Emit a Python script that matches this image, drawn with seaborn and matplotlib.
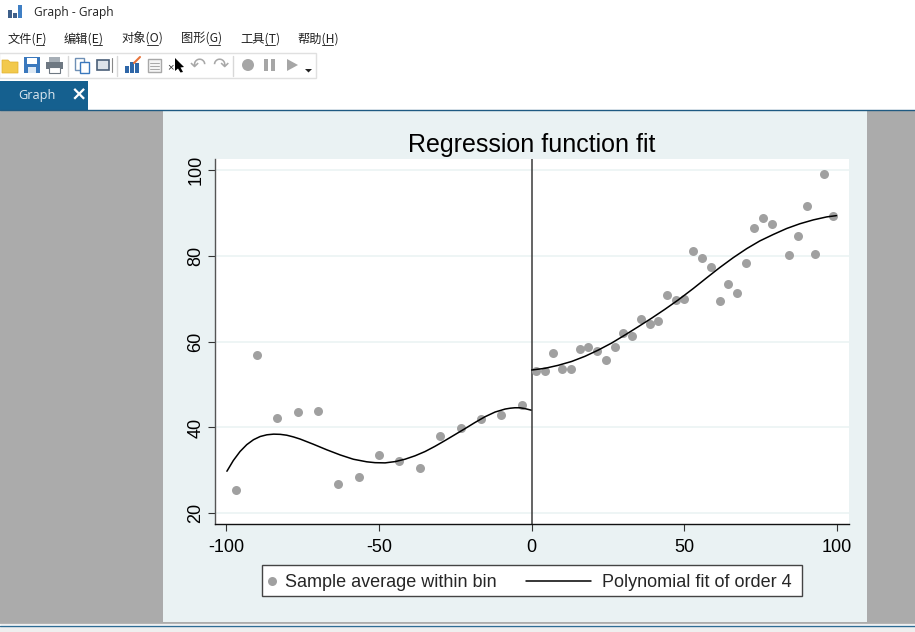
import matplotlib
matplotlib.use("Agg")
import matplotlib.pyplot as plt
from matplotlib.patches import Rectangle, Polygon, Circle
import seaborn as sns

# ---- data ----
bin_x_left = [-96.7, -90.0, -83.4, -76.6, -70.0, -63.3, -56.7, -50.0, -43.3, -36.6, -29.9, -23.3, -16.6, -10.0, -3.3]
bin_y_left = [25.4, 57.0, 42.3, 43.5, 43.9, 26.8, 28.5, 33.7, 32.2, 30.5, 38.1, 39.8, 41.9, 42.9, 45.2]
bin_x_right = [1.4, 4.3, 7.1, 9.9, 12.8, 15.7, 18.6, 21.5, 24.3, 27.2, 30.0, 32.9, 35.8, 38.6, 41.5, 44.3, 47.2,
               50.0, 52.8, 55.7, 58.6, 61.5, 64.3, 67.1, 70.1, 72.9, 75.8, 78.6, 84.4, 87.2, 90.1, 92.9, 95.7, 98.7]
bin_y_right = [53.1, 53.1, 57.35, 53.7, 53.6, 58.3, 58.8, 57.8, 55.7, 58.75, 62.0, 61.3, 65.2, 64.05, 64.8, 71.0, 69.8,
               70.05, 81.05, 79.55, 77.45, 69.6, 73.4, 71.3, 78.4, 86.6, 88.9, 87.4, 80.3, 84.55, 91.55, 80.35, 99.0, 89.3]
fit_x_left = [-99.8, -97.7, -95.5, -93.3, -91.1, -88.9, -86.7, -84.5, -82.3, -80.2, -78.0, -75.8, -71.5, -67.1, -62.7, -58.4, -54.0,
              -51.3, -48.0, -44.7, -41.5, -38.2, -34.9, -31.7, -28.4, -25.1, -21.8, -18.6, -15.3, -12.0, -8.7, -7.0, -5.5, -3.8, -2.2, -0.2]
fit_y_left = [29.8, 32.3, 34.4, 36.0, 37.15, 37.9, 38.3, 38.45, 38.4, 38.2, 37.8, 37.3, 36.1, 34.8, 33.6, 32.6, 32.0,
               31.8, 31.75, 32.05, 32.6, 33.4, 34.4, 35.6, 36.95, 38.35, 39.75, 41.15, 42.5, 43.6, 44.3, 44.5, 44.6, 44.6, 44.4, 44.05]
fit_x_right = [0.0, 4.35, 8.7, 13.1, 17.45, 21.8, 26.2, 30.5, 34.9, 39.3, 43.6, 48.0, 52.9, 57.3, 61.6, 66.0, 70.4,
               74.7, 79.1, 83.5, 87.8, 92.2, 96.6, 99.8]
fit_y_right = [53.4, 53.8, 54.5, 55.4, 56.6, 58.05, 59.7, 61.55, 63.5, 65.5, 67.55, 69.75, 72.4, 74.9, 77.3, 79.6, 81.7,
                83.5, 85.0, 86.4, 87.5, 88.4, 89.1, 89.4]
x_ticks = [-100, -50, 0, 50, 100]
y_ticks = [20, 40, 60, 80, 100]
title_text = "Regression function fit"
series_bin = "Sample average within bin"
series_fit = "Polynomial fit of order 4"
menu_labels = ["文件(F)", "编辑(E)", "对象(O)", "图形(G)", "工具(T)", "帮助(H)"]

# ---- style ----
W, H = 915, 632
sns.set_theme(style="ticks")
plt.rcParams["font.family"] = ["Liberation Sans", "DejaVu Sans"]
plt.rcParams["axes.unicode_minus"] = False
PANEL = "#EAF2F3"
BLUE = "#15608F"

fig = plt.figure(figsize=(W / 100, H / 100), dpi=100, facecolor="white")

# ---- window chrome, in pixel coordinates ----
ui = fig.add_axes([0, 0, 1, 1], zorder=0)
ui.set_xlim(0, W)
ui.set_ylim(H, 0)
ui.axis("off")
ui.add_patch(Rectangle((0, 110), W, 513, fc="#ABABAB", ec="none"))
ui.add_patch(Rectangle((163, 110), 704, 512, fc=PANEL, ec="none"))
ui.plot([0, W], [109.5, 109.5], color="#1F5A82", lw=1)
ui.plot([0, W], [622.7, 622.7], color="#B5B5B5", lw=1)
ui.plot([0, W], [625.5, 625.5], color="#2F6C94", lw=1)
ui.add_patch(Rectangle((0, 627), W, 5, fc="#EFEFEF", ec="none"))

# title bar
for (x, y0, c) in [(8, 10, "#3E5F8A"), (13, 13, "#3E5F8A"), (18, 5, "#3F7FC4")]:
    ui.add_patch(Rectangle((x, y0), 4, 18 - y0, fc=c, ec="none"))
ui.text(34, 12.5, "Graph - Graph", fontsize=8.6, family="Open Sans", va="center", color="#222222")

# menu
menu_x = [8, 64, 121, 181, 240, 297]
underlines = [(36, 44), (93, 102), (147, 158), (209, 220), (265, 275), (322, 333)]
for x, t, (u0, u1) in zip(menu_x, menu_labels, underlines):
    ui.text(x, 39, t, fontsize=8.8, family=["Noto Sans CJK SC", "DejaVu Sans"], va="center", color="#222222")
    ui.plot([u0, u1], [45, 45], color="#333333", lw=0.7)

# toolbar
ui.add_patch(Rectangle((-1, 52.5), 317, 25, fc="white", ec="#E0E0E0", lw=1))
for x in (68, 117, 233):
    ui.plot([x, x], [56, 76], color="#D8D8D8", lw=1)
ui.add_patch(Polygon([(2, 60), (8, 60), (10, 62), (18, 62), (18, 73), (2, 73)], fc="#F2C94C", ec="#E0B030", lw=0.5))
ui.add_patch(Rectangle((24, 57), 16, 16, fc="#3A78BD", ec="none"))
ui.add_patch(Rectangle((27, 58), 10, 6, fc="white", ec="none"))
ui.add_patch(Rectangle((28, 67), 8, 6, fc="#DCE8F4", ec="none"))
ui.add_patch(Rectangle((49, 57), 11, 5, fc="#A6AEB6", ec="none"))
ui.add_patch(Rectangle((46, 62), 17, 7, fc="#6E7882", ec="none"))
ui.add_patch(Rectangle((49, 67), 11, 6, fc="white", ec="#6E7882", lw=0.8))
ui.add_patch(Rectangle((75, 58), 9, 12, fc="white", ec="#6E8FB5", lw=1))
ui.add_patch(Rectangle((80, 62), 9, 11, fc="white", ec="#3A78BD", lw=1))
ui.add_patch(Rectangle((97, 60), 12, 10, fc="#DCE3EA", ec="#4A5F78", lw=1.2))
ui.plot([112, 112], [58, 72], color="#888888", lw=0.8)
for x, top in [(125, 66), (130, 62), (135, 63)]:
    ui.add_patch(Rectangle((x, top), 4, 73 - top, fc="#2F67A8", ec="none"))
ui.plot([134, 140], [63, 57], color="#E8743B", lw=1.5)
ui.add_patch(Rectangle((147.5, 59), 13, 13, fc="#F5F5F5", ec="#A8A8A8", lw=1))
for y in (62.5, 65.5, 68.5):
    ui.plot([149.5, 158.5], [y, y], color="#A8A8A8", lw=0.7)
ui.text(170.5, 67.5, "×", fontsize=8, va="center", ha="center", color="#333333")
ui.add_patch(Polygon([(175, 58), (184, 67), (180.5, 67.5), (183, 72), (180.5, 72.5), (178, 68.5), (175, 71)],
                     fc="black", ec="none", zorder=5))
ui.text(198, 65, "↶", fontsize=14, family="DejaVu Sans", ha="center", va="center", color="#A8A8A8")
ui.text(220, 65, "↷", fontsize=14, family="DejaVu Sans", ha="center", va="center", color="#A8A8A8")
ui.add_patch(Circle((248, 65), 6, fc="#A6A6A6", ec="none"))
ui.add_patch(Rectangle((264, 59), 4, 12, fc="#A6A6A6", ec="none"))
ui.add_patch(Rectangle((271, 59), 4, 12, fc="#A6A6A6", ec="none"))
ui.add_patch(Polygon([(287, 59), (298, 65), (287, 71)], fc="#A6A6A6", ec="none"))
ui.add_patch(Polygon([(305, 69), (312, 69), (308.5, 72.5)], fc="#222222", ec="none"))

# tab
ui.add_patch(Rectangle((0, 81), 88, 28.5, fc=BLUE, ec="none"))
ui.text(37, 95, "Graph", fontsize=9.2, family="Open Sans", ha="center", va="center", color="#DDE8F0")
ui.text(79, 94.5, "×", fontsize=14, family="DejaVu Sans", weight="bold", ha="center", va="center", color="white")

# ---- the chart ----
L, R, T, B = 215.3, 849.0, 159.0, 524.3
ax = fig.add_axes([L / W, 1 - B / H, (R - L) / W, (B - T) / H], zorder=1, facecolor="white")

ax.yaxis.grid(True, color=PANEL, lw=1.1, zorder=0)
ax.set_axisbelow(True)
ax.axvline(0, color="#3A3A3A", lw=1.1, zorder=1.5)

sns.scatterplot(x=bin_x_left + bin_x_right, y=bin_y_left + bin_y_right, ax=ax, color="#A0A0A0", s=42,
                linewidth=0, label=series_bin, zorder=2)
sns.lineplot(x=fit_x_left, y=fit_y_left, ax=ax, color="black", lw=1.1, label=series_fit, zorder=3)
sns.lineplot(x=fit_x_right, y=fit_y_right, ax=ax, color="black", lw=1.1, zorder=3)

ax.set_xlim(-103.6, 103.9)
ax.set_ylim(17.43, 102.6)
ax.set_xticks(x_ticks)
ax.set_yticks(y_ticks)
ax.set_xlabel("")
ax.set_ylabel("")
ax.tick_params(axis="both", labelsize=13, length=5.2, width=0.8, color="#333333", labelcolor="black")
ax.tick_params(axis="x", pad=5.6)
ax.tick_params(axis="y", pad=2.6)
for t in ax.get_yticklabels():
    t.set_rotation(90)
    t.set_va("center")
sns.despine(ax=ax)
ax.spines["left"].set_color("#555555")
ax.spines["left"].set_linewidth(1.0)
ax.spines["bottom"].set_color("#111111")
ax.spines["bottom"].set_linewidth(1.0)
ax.set_title(title_text, fontsize=18.0, color="black", pad=5)

# legend: the marker entry takes a narrower symbol slot than the line entry
handles, labels = ax.get_legend_handles_labels()
leg = ax.legend(handles, labels, ncol=2, loc="center", bbox_to_anchor=(532.0 / W, 1 - 580.5 / H),
                bbox_transform=fig.transFigure, fontsize=13, frameon=True, fancybox=False, framealpha=1,
                edgecolor="#444444", facecolor="white", handlelength=3.65, handletextpad=0.6,
                columnspacing=1.6, borderpad=0.4, borderaxespad=0, scatterpoints=1)
leg.get_frame().set_linewidth(1.0)
col0 = leg._legend_handle_box.get_children()[0].get_children()[0]
slot = col0.get_children()[0]
slot.width = 3.6
leg._legend_handle_box.width = 525.6
h0, h1 = leg.legend_handles
h0.set_offsets([[2.0, 3.0]])
h0.set_sizes([42])
h1.set_ydata([y - 1.5 for y in h1.get_ydata()])
for t in leg.get_texts():
    t.set_y(-2)

fig.savefig("out.png", dpi=100)
